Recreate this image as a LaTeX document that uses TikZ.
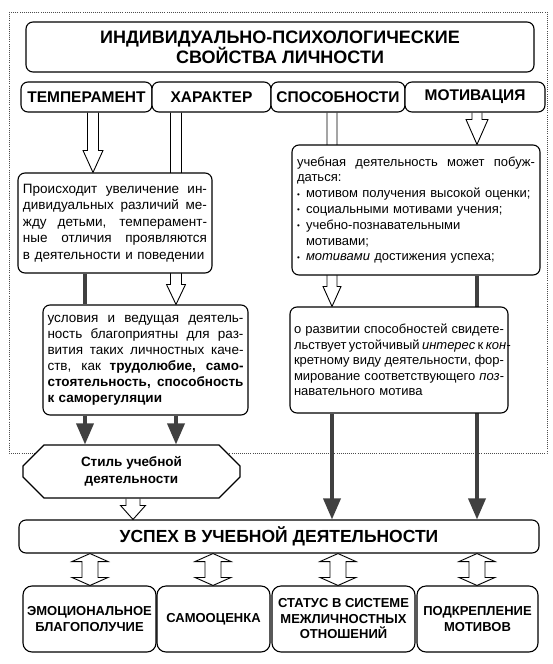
\documentclass[tikz,border=0pt]{standalone}
\usepackage{fontspec}
\setmainfont{Liberation Sans}
\usetikzlibrary{calc,arrows.meta,shapes.misc,backgrounds}

\newlength\jw
\tikzset{
  box/.style={draw, line width=1.1pt, rounded corners=7pt, fill=white, inner sep=0pt},
  headbox/.style={box, minimum height=30pt, font=\fontsize{15.5}{18}\selectfont\bfseries},
  textbox/.style={box, align=left, font=\fontsize{13.5}{16.5}\selectfont},
  tw/.style={text width=#1, execute at begin node={\setlength\jw{#1}}},
  footbox/.style={box, rounded corners=9pt, minimum height=66pt, align=center,
    font=\fontsize{13}{15.5}\selectfont\bfseries},
  hollow/.style={draw, line width=0.9pt, fill=white},
  heavy/.style={line width=3.5pt, draw=black!75},
  solidarrow/.style={heavy, -{Triangle[width=17pt,length=21pt]}},
  frame/.style={draw=black!70, line width=0.7pt, dash pattern=on 0.8pt off 1.3pt}
}

% justified line of fixed width
\newcommand\jl[1]{\leavevmode\hbox to \jw{\spaceskip=0pt\xspaceskip=0pt #1}}
\newcommand\bul[1]{\mbox{\makebox[9pt][l]{\raisebox{0.5pt}{\footnotesize\textbullet}}#1}}

% hollow block arrow straight down: x, from, to, shaft half, head half, head length
\newcommand\hollowdown[6]{%
  \draw[hollow] let \p1=(#1 |- #2), \p2=(#1 |- #3) in
    (\x1-#4,\y1) -- (\x1-#4,\y2+#6) -- (\x1-#5,\y2+#6) -- (\x2,\y2)
    -- (\x1+#5,\y2+#6) -- (\x1+#4,\y2+#6) -- (\x1+#4,\y1);}

% hollow double-headed arrow: x, upper, lower
\newcommand\hollowboth[3]{%
  \draw[hollow] let \p1=(#1 |- #2), \p2=(#1 |- #3) in
    (\x1,\y1) -- (\x1+18pt,\y1-8pt) -- (\x1+8pt,\y1-8pt) -- (\x1+8pt,\y2+8pt)
    -- (\x1+18pt,\y2+8pt) -- (\x1,\y2) -- (\x1-18pt,\y2+8pt) -- (\x1-8pt,\y2+8pt)
    -- (\x1-8pt,\y1-8pt) -- (\x1-18pt,\y1-8pt) -- cycle;}

\begin{document}
\begin{tikzpicture}[x=1pt,y=-1pt]
\useasboundingbox (0,0) rectangle (553,664);

% title and the four properties
\node[box, minimum width=508pt, minimum height=50pt, align=center,
  font=\fontsize{18}{20}\selectfont\bfseries] (title) at (280,47)
  {ИНДИВИДУАЛЬНО-ПСИХОЛОГИЧЕСКИЕ\\СВОЙСТВА ЛИЧНОСТИ};
\node[headbox, minimum width=131pt] (temp) at (86.5,97) {ТЕМПЕРАМЕНТ};
\node[headbox, minimum width=119pt] (char) at (211.5,97) {ХАРАКТЕР};
\node[headbox, minimum width=134pt] (spos) at (338,97) {СПОСОБНОСТИ};
\node[headbox, minimum width=140pt] (motiv) at (475,97) {МОТИВАЦИЯ};

% middle boxes
\node[textbox, minimum width=194pt, minimum height=100pt, tw=184pt] (proc) at (115,223)
  {\jl{Происходит увеличение ин-}\\
   \jl{дивидуальных различий ме-}\\
   \jl{жду детьми, темперамент-}\\
   \jl{ные отличия проявляются}\\
   в деятельности и поведении};
\node[textbox, minimum width=248pt, minimum height=130pt, tw=238pt,
  font=\fontsize{13}{15.8}\selectfont] (ucheb) at (416,210)
  {\jl{учебная деятельность может побуж-}\\
   даться:\\
   \bul{мотивом получения высокой оценки;}\\
   \bul{социальными мотивами учения;}\\
   \bul{учебно-познавательными}\\
   \hspace*{9pt}мотивами;\\
   \bul{\textit{мотивами} достижения успеха;}};
\node[textbox, minimum width=205pt, minimum height=110pt, tw=196pt,
  font=\fontsize{13.5}{16}\selectfont] (usl) at (145.5,360)
  {\jl{условия и ведущая деятель-}\\
   \jl{ность благоприятны для раз-}\\
   \jl{вития таких личностных каче-}\\
   \jl{ств, как \textbf{трудолюбие, само-}}\\
   \jl{\textbf{стоятельность, способность}}\\
   \textbf{к саморегуляции}};
\node[textbox, minimum width=218pt, minimum height=106pt, tw=210pt,
  font=\fontsize{13}{15.5}\selectfont] (razv) at (399,360)
  {\jl{о развитии способностей свидете-}\\
   \jl{льствует устойчивый \textit{интерес} к \textit{кон-}}\\
   \jl{кретному виду деятельности, фор-}\\
   \jl{мирование соответствующего \textit{поз-}}\\
   навательного мотива\par\vspace*{26pt}};

% style and success
\node[draw, line width=1.1pt, fill=white, chamfered rectangle, chamfered rectangle xsep=10pt,
  chamfered rectangle ysep=11pt, minimum width=217pt, minimum height=53pt, inner sep=0pt,
  align=center, font=\fontsize{13.5}{17}\selectfont\bfseries] (stil) at (131.5,471.5)
  {Стиль учебной\\деятельности};
\node[box, minimum width=520pt, minimum height=33pt,
  font=\fontsize{17.5}{20}\selectfont\bfseries] (succ) at (279,536.5)
  {УСПЕХ В УЧЕБНОЙ ДЕЯТЕЛЬНОСТИ};

% bottom row
\node[footbox, minimum width=133pt] (b1) at (89.5,619) {ЭМОЦИОНАЛЬНОЕ\\БЛАГОПОЛУЧИЕ};
\node[footbox, minimum width=113pt] (b2) at (213.5,619) {САМООЦЕНКА};
\node[footbox, minimum width=143pt] (b3) at (343.5,619) {СТАТУС В СИСТЕМЕ\\МЕЖЛИЧНОСТНЫХ\\ОТНОШЕНИЙ};
\node[footbox, minimum width=121pt] (b4) at (477.5,619) {ПОДКРЕПЛЕНИЕ\\МОТИВОВ};

% x positions of the connectors
\coordinate (xa) at (93,0);
\coordinate (xb) at (176,0);
\coordinate (xc) at (332,0);
\coordinate (xd) at (477,0);
\coordinate (xp) at (85,0);
\coordinate (xg) at (133,0);
\coordinate (x1) at (90,0);
\coordinate (x2) at (213,0);
\coordinate (x3) at (338,0);
\coordinate (x4) at (477,0);

\begin{scope}[on background layer]
\path[frame] (9,12) rectangle (547,453);

% hollow arrows
\hollowdown{xa}{temp.south}{proc.north}{5.5pt}{10pt}{22pt}
\hollowdown{xb}{char.south}{usl.north}{5.5pt}{9.5pt}{20pt}
\hollowdown{xc}{spos.south}{razv.north}{5pt}{9pt}{20pt}
\hollowdown{xd}{motiv.south}{ucheb.north}{5pt}{11pt}{25pt}
\hollowdown{xg}{stil.south}{succ.north}{7pt}{12.5pt}{14pt}

% solid ones
\draw[heavy] (xp |- proc.south) -- (xp |- usl.north);
\draw[solidarrow] (xp |- usl.south) -- (xp |- stil.north);
\draw[solidarrow] (xb |- usl.south) -- (xb |- stil.north);
\draw[solidarrow] (xc |- razv.south) -- (xc |- succ.north);
\draw[solidarrow] (xd |- ucheb.south) -- (xd |- succ.north);

% two-way arrows
\hollowboth{x1}{succ.south}{b1.north}
\hollowboth{x2}{succ.south}{b2.north}
\hollowboth{x3}{succ.south}{b3.north}
\hollowboth{x4}{succ.south}{b4.north}
\end{scope}
\end{tikzpicture}
\end{document}
